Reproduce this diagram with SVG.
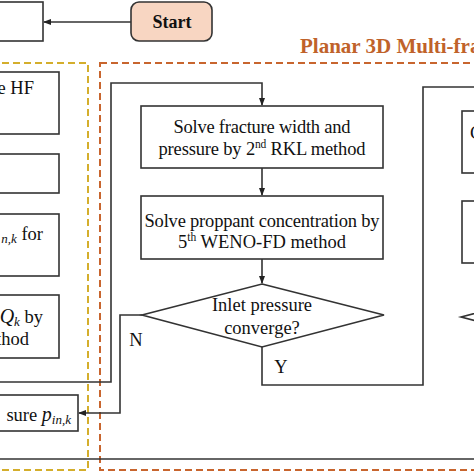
<svg xmlns="http://www.w3.org/2000/svg" width="474" height="474" viewBox="0 0 474 474">
<defs>
<marker id="ah" markerWidth="8" markerHeight="6" refX="7" refY="3" orient="auto" markerUnits="userSpaceOnUse">
<path d="M0,0 L8,3 L0,6 Z" fill="#222"/>
</marker>
<style>
.box{fill:#fff;stroke:#333;stroke-width:1.6}
.t{font-family:"Liberation Serif","Times New Roman",serif;font-size:18.5px;fill:#111}
.c{text-anchor:middle}
.e{text-anchor:end}
.ln{fill:none;stroke:#333;stroke-width:1.6}
.sub{font-size:13px;font-style:italic}
.it{font-style:italic;font-size:20px}
.sup{font-size:11.5px}
</style>
</defs>
<rect width="474" height="474" fill="#fff"/>
<g id="regions">
<rect x="-20" y="63" width="108" height="407" fill="none" stroke="#d4ae2c" stroke-width="2" stroke-dasharray="7,4"/>
<rect x="100" y="63" width="420" height="407" fill="none" stroke="#c8652e" stroke-width="2" stroke-dasharray="7,4"/>
<text x="300" y="53" class="t" style="font-weight:bold;font-size:21px;fill:#c0622a">Planar 3D Multi-fra</text>
</g>
<g id="connectors">
<line x1="131" y1="22" x2="44" y2="22" class="ln" marker-end="url(#ah)"/>
<polyline points="0,382 111,382 111,83 262,83 262,105" class="ln" marker-end="url(#ah)"/>
<line x1="262" y1="168" x2="262" y2="195" class="ln" marker-end="url(#ah)"/>
<line x1="262" y1="259" x2="262" y2="283" class="ln" marker-end="url(#ah)"/>
<polyline points="142,315 120,315 120,413 79,413" class="ln" marker-end="url(#ah)"/>
<polyline points="262,347 262,385 423,385 423,87 480,87" class="ln"/>
<line x1="0" y1="459" x2="474" y2="459" class="ln"/>
<text x="136" y="346" class="t c">N</text>
<text x="281" y="373" class="t c">Y</text>
</g>
<g id="node-prev">
<rect x="-10" y="2" width="53" height="39" class="box"/>
</g>
<g id="node-start">
<rect x="131" y="2" width="81" height="39" rx="8" fill="#f8d6c2" stroke="#333" stroke-width="1.6"/>
<text x="172" y="28" class="t c" style="font-weight:bold;font-size:18px">Start</text>
</g>
<g id="node-hf">
<rect x="-10" y="72" width="69" height="62" class="box"/>
<text x="34" y="94" class="t e">e HF</text>
</g>
<g id="node-l2">
<rect x="-10" y="154" width="69" height="39" class="box"/>
</g>
<g id="node-l3">
<rect x="-10" y="214" width="69" height="62" class="box"/>
<text x="43" y="240" class="t e"><tspan class="sub" dy="3">n,k</tspan><tspan dy="-3"> for</tspan></text>
</g>
<g id="node-l4">
<rect x="-10" y="295" width="69" height="63" class="box"/>
<text x="43" y="323" class="t e"><tspan class="it">Q</tspan><tspan class="sub" dy="3">k</tspan><tspan dy="-3"> by</tspan></text>
<text x="29" y="345" class="t e">thod</text>
</g>
<g id="node-pressure">
<rect x="-10" y="395" width="88" height="36" class="box"/>
<text x="71" y="421" class="t e">sure <tspan class="it">p</tspan><tspan class="sub" dy="3">in,k</tspan></text>
</g>
<g id="node-rkl">
<rect x="141" y="106" width="242" height="62" class="box"/>
<text x="262" y="133" class="t c" textLength="177" lengthAdjust="spacing">Solve fracture width and</text>
<text x="262" y="155" class="t c" textLength="207" lengthAdjust="spacing">pressure by 2<tspan class="sup" dy="-7">nd</tspan><tspan dy="7"> RKL method</tspan></text>
</g>
<g id="node-weno">
<rect x="141" y="196" width="242" height="63" class="box"/>
<text x="262" y="227" class="t c" textLength="235" lengthAdjust="spacing">Solve proppant concentration by</text>
<text x="262" y="248" class="t c">5<tspan class="sup" dy="-7">th</tspan><tspan dy="7"> WENO-FD method</tspan></text>
</g>
<g id="node-converge">
<polygon points="262,284 384,315 262,347 142,315" class="box"/>
<text x="262" y="311" class="t c">Inlet pressure</text>
<text x="262" y="334" class="t c">converge?</text>
</g>
<g id="node-r1">
<rect x="462" y="111" width="40" height="62" class="box"/>
<text x="470" y="139" class="t">C</text>
</g>
<g id="node-r2">
<rect x="462" y="201" width="40" height="62" class="box"/>
</g>
<g id="node-r3">
<polygon points="461,317 583,285 705,317 583,349" class="box"/>
</g>
</svg>
